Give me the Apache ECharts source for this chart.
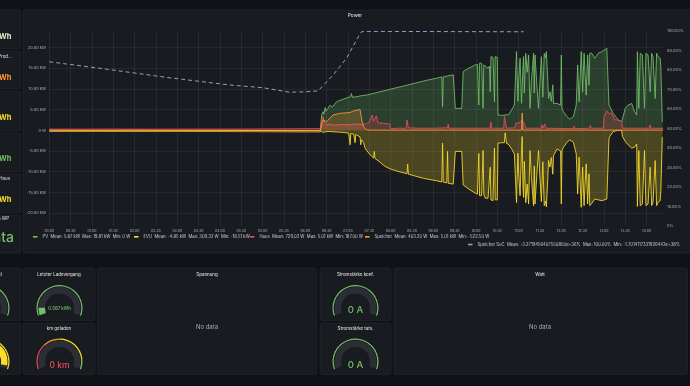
<!DOCTYPE html>
<html><head><meta charset="utf-8">
<script src="https://cdn.jsdelivr.net/npm/echarts@6/dist/echarts.min.js"></script>
<style>html,body{margin:0;padding:0;background:#111217;}#c{width:690px;height:386px;}</style>
</head><body><div id="c"></div>
<script>
// time in minutes after midnight, power in kW
const pvData = [[0,0],[381,0],[383,3.7],[385,4.5],[386,3.9],[388,5.5],[389,4.6],[390,4.9],[395,6.1],[398,5.6],[404,6.9],[413,7.5],[423,8.1],[425,8.9],[426,8.0],[432,8.1],[440,8.4],[446,8.5],[460,9.1],[479,9.9],[503,10.9],[526,11.9],[545,12.6],[552,12.9],[553,5.7],[554,12.9],[568,13.4],[570,13.4],[571,5.3],[580,5.3],[582,14.2],[590,15.0],[599,15.8],
[602,15.9],[603,16.0],[604,6.1],[605,16.2],[608,16.2],[610,5.3],[611,15.8],[613,15.6],[617,15.0],[619,15.5],[620,9.3],[621,17.8],[623,17.8],[624,17.6],[626,6.9],[627,17.8],[629,17.8],[630,17.6],[631,3.7],
[636,3.6],[641,3.7],[646,3.8],[650,4.9],[654,6.1],[656,6.5],
[657,19.0],[659,7.0],[660,12.0],[662,17.4],[664,6.5],[666,15.0],[667,17.8],[668,9.0],[670,18.6],[672,14.0],[674,18.2],[676,5.3],[678,12.0],[681,18.6],[682,9.0],[683,18.2],[685,18.6],[686,10.0],[688,5.3],[690,12.0],[692,17.8],[694,8.0],[696,18.6],[698,17.5],[699,19.0],[701,12.0],[702,7.7],[704,9.3],
[706,7.0],[708,11.0],[709,6.5],[711,6.9],[714,6.5],[716,6.5],[719,6.1],[720,18.2],[721,5.3],[723,4.5],
[728,3.3],[732,2.7],[737,3.3],[741,6.1],
[743,15.8],[745,6.9],[748,19.0],[750,9.3],[752,18.6],[755,8.5],[757,18.2],[759,10.9],[760,18.6],
[763,18.6],[767,17.4],[772,18.6],[777,19.0],[784,19.8],[786,19.4],[787,6.1],
[788,6.1],[793,4.1],[800,2.5],[805,2.1],[810,5.3],[814,6.1],[819,6.5],[823,4.5],[826,3.7],
[827,19.0],[829,5.3],[831,18.6],[834,18.2],[837,5.3],[839,18.6],[842,18.2],[845,9.3],[847,18.6],[849,17.8],[852,7.7],[854,18.6],[856,17.8],[859,17.4],[860,15.0],[862,2.1],[863,2.0]];

const evuData = [[0,0.05],[60,0.0],[120,0.05],[180,0.0],[240,0.0],[300,-0.05],[360,-0.1],[381,-0.1],[383,-0.3],[385,-0.5],[390,-0.3],[395,-0.3],[404,-0.4],[413,-0.5],[421,-0.7],[423,-3.5],[424,-0.8],[428,-0.9],[430,-3.0],[431,-1.0],[432,-1.1],[437,-1.6],[438,-3.5],[439,-2.3],[442,-3.0],[444,-4.3],[446,-4.8],[451,-5.9],[456,-6.7],[457,-5.1],[458,-6.8],[465,-7.7],[472,-8.7],[479,-9.3],[490,-9.9],[503,-10.5],[504,-8.2],[505,-10.6],[526,-11.6],[545,-12.2],[552,-12.5],[553,-3.1],[554,-12.5],[559,-12.7],[560,-5.1],[561,-12.8],[568,-13.0],[570,-13.0],[571,-5.1],[580,-5.1],[582,-13.2],[590,-14.2],[599,-15.2],
[602,-15.4],[603,-15.5],[604,-5.6],[605,-15.8],[608,-15.8],[610,-4.9],[611,-15.4],[613,-16.4],[617,-16.4],[619,-16.0],[620,-8.9],[621,-16.8],[623,-17.2],[624,-17.0],[626,-4.3],[627,-16.8],[629,-17.2],[630,-16.8],[631,-3.1],
[636,-3.0],[640,-3.0],[641,-0.6],[643,-3.2],[646,-3.4],[650,-4.5],[654,-5.7],[656,-6.0],
[657,-17.5],[659,-5.5],[660,-10.5],[662,-15.8],[664,-5.0],[665,-1.5],[666,-13.5],[667,-16.2],[668,-7.5],[670,-17.5],[672,-13.0],[674,-17.8],[676,-4.9],[678,-11.6],[681,-18.2],[682,-8.6],[683,-17.8],[685,-18.2],[686,-9.6],[688,-4.9],[690,-11.6],[692,-17.2],[694,-7.6],[696,-18.2],[698,-17.1],[699,-18.5],[701,-11.6],[702,-7.3],[704,-8.9],
[706,-6.6],[708,-10.6],[709,-6.1],[711,-5.5],[714,-4.5],[716,-4.8],[719,-5.0],[720,-17.8],[721,-4.9],[723,-4.1],
[728,-2.9],[732,-2.3],[737,-2.9],[741,-5.7],
[743,-15.4],[745,-6.5],[748,-18.6],[750,-8.9],[752,-18.2],[755,-8.1],[757,-17.8],[759,-10.5],[760,-18.2],
[763,-17.6],[767,-16.6],[772,-16.8],[777,-17.0],[784,-16.6],[786,-16.4],[787,-2.0],
[788,-1.5],[793,-0.3],[800,0.0],[805,-0.1],[806,-1.5],[810,-2.7],[814,-3.5],[819,-4.3],[823,-4.1],[826,-3.3],
[827,-18.4],[829,-4.9],[831,-18.2],[834,-17.8],[837,-4.9],[839,-18.2],[842,-17.8],[845,-8.9],[847,-18.2],[849,-17.4],[852,-7.3],[854,-18.2],[856,-17.4],[859,-17.0],[860,-14.6],[862,-1.7],[863,-1.6]];

const hausData = [[0,0.3],[45,0.28],[90,0.3],[150,0.28],[210,0.3],[270,0.3],[330,0.35],[381,0.4],[383,2.1],[385,3.3],[387,1.8],[390,1.3],[395,1.5],[400,1.2],[410,1.4],[420,1.3],[430,1.5],[440,1.4],[446,1.6],[450,2.0],[454,3.7],[456,2.2],[460,3.5],[462,1.8],[470,1.7],[479,1.5],[480,0.4],[490,0.5],[502,0.5],[503,2.5],[505,0.6],[520,0.5],[540,0.5],[560,0.6],[561,1.5],[562,0.5],[600,0.5],[620,0.5],[621,2.0],[622,0.5],[639,0.5],[640,3.3],[642,3.0],[643,0.5],[655,0.6],[656,1.7],[662,1.8],[665,2.5],[669,1.2],[670,0.5],[692,0.5],[693,1.3],[694,0.5],[697,1.5],[698,0.5],[737,0.4],[738,1.0],[739,0.4],[760,0.5],[761,1.2],[762,0.5],[779,0.5],[780,3.3],[784,4.7],[786,4.1],[791,4.1],[795,2.5],[800,2.5],[805,2.1],[806,0.5],[844,0.5],[845,1.3],[846,0.5],[863,0.5]];

const speicherData = [[0,-0.3],[60,-0.28],[120,-0.3],[180,-0.28],[240,-0.3],[300,-0.35],[360,-0.4],[381,-0.4],[383,1.3],[385,2.5],[390,2.1],[395,3.0],[399,3.7],[409,4.1],[423,4.3],[428,4.7],[437,5.0],[439,4.8],[440,2.0],[442,0.8],[446,0.2],[450,0.05],[664,0.05],[665,4.2],[666,0.05],[863,0.05]];

// state of charge in %
const socData = [[0,84.2],[71,80.9],[165,76.2],[254,72.3],[301,70.9],[338,68.6],[360,68.8],[378,69.3],[399,77.4],[418,86.0],[432,95.4],[439,99.6],[445,99.8],[667,99.6]];

const seriesNames = ['PV','EVU','Haus','Speicher','Speicher SoC'];
const legendTexts = ['PV  Mean: 5.87 kW  Max: 19.81 kW  Min: 0 W',
  'EVU  Mean: -4.85 kW  Max: 309.33 W  Min: -18.51 kW',
  'Haus  Mean: 729.02 W  Max: 5.01 kW  Min: 187.00 W',
  'Speicher  Mean: 403.20 W  Max: 5.01 kW  Min: -522.50 W',
  'Speicher SoC  Mean: -3.2719456407550850e+36%  Max: 100.00%  Min: -1.7014117331926443e+38%'];

const gaugeTitles = ['Letzter Ladevorgang','km geladen','Stromstärke konf.','Stromstärke tats.'];
const gaugeValues = [0.567, 0, 0, 0];
const gaugeTexts = ['0.567 kWh','0 km','0 A','0 A'];

const F = 'Inter, Roboto, sans-serif';
const pad = n => (n < 10 ? '0' : '') + n;
const fmtTime = v => pad(Math.floor(v / 60)) + ':' + pad(v % 60);
const colors = ['#73BF69','#FADE2A','#F2495C','#FF9830','#8fa3c6'];
const lab = 'rgba(204,204,220,0.8)';
const gridCol = 'rgba(204,204,220,0.08)';

function panel(x, y, w, h) {
  return {type:'rect', z:0, shape:{x:x, y:y, width:w, height:h, r:2},
    style:{fill:'#181b1f', stroke:'rgba(204,204,220,0.06)', lineWidth:1}};
}
function txt(t, x, y, size, color, align, weight) {
  return {type:'text', z:10, x:x, y:y, style:{text:t, fill:color, fontSize:size, fontFamily:F,
    fontWeight:weight || 'normal', align:align || 'center', verticalAlign:'middle'}};
}

const graphics = [
  panel(-3, 10, 24, 39), panel(-3, 51, 24, 38), panel(-3, 91, 24, 40), panel(-3, 133, 24, 39),
  panel(-3, 174, 24, 39), panel(-3, 215, 24, 38),
  panel(23, 10, 680, 243),
  panel(-3, 268, 24, 52.5), panel(-3, 323, 24, 51.5),
  panel(23, 268, 72, 52.5), panel(23, 323, 72, 51.5),
  panel(97.5, 268, 219, 106.5),
  panel(320, 268, 71, 52.5), panel(320, 323, 71, 51.5),
  panel(394, 268, 293.5, 106.5),
  txt('Power', 355, 16, 4.8, '#d8d9da', 'center', 500),
  txt('3.94 kWh', 11.5, 37, 7.5, '#e3ebcf', 'right', 'bold'),
  txt('PV-Prod...', 12, 57, 4.4, '#ccccdc', 'right', 500),
  txt('1.27 kWh', 11.5, 78, 7.5, '#FF9830', 'right', 'bold'),
  txt('8.12 kWh', 11.5, 118, 7.5, '#FADE2A', 'right', 'bold'),
  txt('6.35 kWh', 11.5, 159, 7.5, '#73BF69', 'right', 'bold'),
  txt('Verbrauch Haus', 10, 179, 4.4, '#ccccdc', 'right', 500),
  txt('4.71 kWh', 11.5, 200, 7.5, '#FADE2A', 'right', 'bold'),
  txt('Verbrauch WP', 9, 219, 4.4, '#ccccdc', 'right', 500),
  txt('No data', 14, 238, 14, '#73BF69', 'right', 500),
  txt('Ladeziel', 2, 274.3, 4.4, '#d8d9da', 'right', 500),
  txt(gaugeTitles[0], 59, 274.3, 4.4, '#d8d9da', 'center', 500),
  txt(gaugeTitles[1], 59, 329, 4.4, '#d8d9da', 'center', 500),
  txt('Spannung', 207, 274.3, 4.4, '#d8d9da', 'center', 500),
  txt('No data', 207, 327, 6, '#a8a9b3', 'center'),
  txt(gaugeTitles[2], 355.5, 274.3, 4.4, '#d8d9da', 'center', 500),
  txt(gaugeTitles[3], 355.5, 329, 4.4, '#d8d9da', 'center', 500),
  txt('Watt', 540, 274.3, 4.4, '#d8d9da', 'center', 500),
  txt('No data', 540, 327, 6, '#a8a9b3', 'center')
];

function gaugePair(cx, cy, value, max, outerColors, fillColor, text, size, offY, textColor) {
  const common = {type:'gauge', center:[cx, cy], startAngle:200, endAngle:-20, min:0, max:max,
    splitLine:{show:false}, axisTick:{show:false}, axisLabel:{show:false}, pointer:{show:false},
    anchor:{show:false}, title:{show:false}, silent:true, animation:false};
  return [
    Object.assign({}, common, {radius:23, axisLine:{lineStyle:{width:1.2, color:outerColors}},
      detail:{show:false}, data:[{value:0}]}),
    Object.assign({}, common, {radius:21, axisLine:{lineStyle:{width:6.5, color:[[1,'#2b2e34']]}},
      progress:{show:true, width:6.5, itemStyle:{color:fillColor}},
      detail:{show:text !== '', formatter:() => text, fontSize:size, color:textColor, fontFamily:F,
        fontWeight:500, offsetCenter:[0, offY]},
      data:[{value:value}]})
  ];
}
const green = [[1,'#73BF69']];
const gauges = [].concat(
  gaugePair(59.5, 308, gaugeValues[0], 6, green, '#73BF69', gaugeTexts[0], 4.4, 1, '#73BF69'),
  gaugePair(59.5, 361.5, gaugeValues[1], 100, [[0.3,'#F2495C'],[0.5,'#FF9830'],[0.88,'#FADE2A'],[1,'#9ccc5c']], '#F2495C', gaugeTexts[1], 8.5, 3.5, '#F2495C'),
  gaugePair(355.5, 308, gaugeValues[2], 32, green, '#73BF69', gaugeTexts[2], 9.5, 2, '#73BF69'),
  gaugePair(355.5, 361.5, gaugeValues[3], 32, green, '#73BF69', gaugeTexts[3], 9.5, 3.5, '#73BF69'),
  gaugePair(-13.5, 308, 0, 10, green, '#73BF69', '', 4, 0, '#73BF69'),
  gaugePair(-13.5, 361.5, 9.6, 10, [[1,'#FADE2A']], '#FADE2A', '', 4, 0, '#FADE2A')
);

function lineSeries(i, data) {
  return {name:seriesNames[i], type:'line', xAxisIndex:0, yAxisIndex:0, data:data, showSymbol:false,
    symbol:'none', lineStyle:{width:1, color:colors[i], opacity:0.85}, itemStyle:{color:colors[i]},
    areaStyle:{color:colors[i], opacity:0.22}, z:2 + i, animation:false};
}

const legendPos = [{left:33, top:234.8}, {left:134, top:234.8}, {left:250, top:234.8},
  {left:365, top:234.8}, {right:10, top:242.5}];
const legends = seriesNames.map((n, i) => Object.assign({
  data:[n], padding:0, itemGap:0,
  itemWidth:4.5, itemHeight:1.6, icon:'rect', selectedMode:false,
  formatter: () => legendTexts[i],
  textStyle:{fontSize:4.2, color:'#ccccdc', fontFamily:F}
}, legendPos[i]));

const chart = echarts.init(document.getElementById('c'));
chart.setOption({
  backgroundColor:'#111217',
  animation:false,
  graphic:{elements:graphics},
  legend:legends,
  grid:[
    {left:49.3, right:27, top:26.8, bottom:152.2},
    {left:49.3, right:27, top:31, bottom:160}
  ],
  xAxis:[
    {type:'value', gridIndex:0, min:0, max:863, show:false, splitLine:{show:false}},
    {type:'value', gridIndex:1, min:0, max:863, interval:30,
      axisLine:{show:false}, axisTick:{show:false},
      axisLabel:{formatter:fmtTime, fontSize:3.5, color:lab, fontFamily:F, margin:3, showMaxLabel:false},
      splitLine:{show:true, showMaxLine:false, lineStyle:{color:gridCol, width:1}}}
  ],
  yAxis:[
    {type:'value', gridIndex:0, min:-25, max:25, interval:5, position:'left',
      axisLine:{show:false}, axisTick:{show:false},
      axisLabel:{formatter:v => v === 0 ? '0 W' : v.toFixed(2) + ' kW', fontSize:4, color:lab,
        fontFamily:F, margin:3.3, showMinLabel:false, showMaxLabel:false},
      splitLine:{show:true, showMinLine:false, showMaxLine:false, lineStyle:{color:gridCol, width:1}}},
    {type:'value', gridIndex:1, min:0, max:100, interval:10, position:'right',
      axisLine:{show:false}, axisTick:{show:false},
      axisLabel:{formatter:v => v === 0 ? '0%' : v.toFixed(2) + '%', fontSize:4, color:lab,
        fontFamily:F, margin:4},
      splitLine:{show:false}}
  ],
  series:[
    lineSeries(0, pvData), lineSeries(1, evuData), lineSeries(2, hausData), lineSeries(3, speicherData),
    {name:seriesNames[4], type:'line', xAxisIndex:1, yAxisIndex:1, data:socData, showSymbol:false,
      symbol:'none', lineStyle:{width:1, color:colors[4], type:[4,3]}, itemStyle:{color:colors[4]}, z:8,
      animation:false}
  ].concat(gauges)
});
</script></body></html>
